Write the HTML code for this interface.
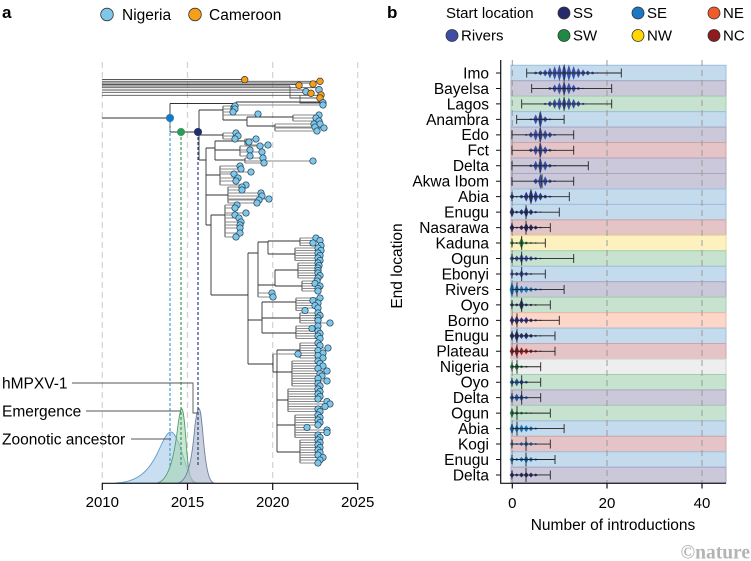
<!DOCTYPE html>
<html><head><meta charset="utf-8"><style>
html,body{margin:0;padding:0;background:#fff;}
svg{display:block;font-family:"Liberation Sans",Arial,sans-serif;}
.d circle{fill:#7fc7ea;stroke:#1e3a4e;stroke-width:.7}
</style></head><body>
<svg width="751" height="561" viewBox="0 0 751 561" xmlns="http://www.w3.org/2000/svg">
<rect width="751" height="561" fill="#fff"/>
<!-- ================= PANEL A ================= -->
<text x="2" y="18" font-size="17" font-weight="bold">a</text>
<circle cx="107" cy="14.5" r="6.3" fill="#7fc7ea" stroke="#333" stroke-width=".8"/>
<text x="122" y="20" font-size="15.5">Nigeria</text>
<circle cx="195" cy="14.5" r="6.3" fill="#f6a01a" stroke="#333" stroke-width=".8"/>
<text x="209" y="20" font-size="15.5">Cameroon</text>
<!-- grid -->
<g stroke="#d2d2d2" stroke-width="1.2" stroke-dasharray="6,4">
<path d="M102.3 62V483M187.5 62V483M272.7 62V483M357.7 62V483"/>
</g>
<!-- densities -->
<path d="M116 483C138 482 149 471 158 452C164 439 167 432 171 432C175 432 180 445 186 465C190 478 193 483 199 483Z" fill="#b7d4ec" fill-opacity=".75" stroke="#5d9fd2" stroke-width=".9"/>
<path d="M157 483C168 481 174 460 178 425C180 411 181 408.5 181.5 408.5C183 408.5 184 415 186 440C188 470 190 482 195 483Z" fill="#a6d3b3" fill-opacity=".6" stroke="#4f9d6c" stroke-width=".9"/>
<path d="M178 483C188 481 192 460 195 425C197 411 198 408.5 198.7 408.5C200 408.5 201 412 203 435C206 470 209 482 214 483Z" fill="#b4bed0" fill-opacity=".7" stroke="#6b80a3" stroke-width=".9"/>
<!-- tree: cameroon -->
<g fill="none" stroke="#555" stroke-width=".9">
<path d="M102 79.5H243M102 81.3H318M102 83H311M102 84.5H297M102 86H290M102 87.7H317M102 90H304M102 92.3H309M102 95.3H300M290 86V98H318M300 95.3V103H321M300 95.3H319"/>
</g>
<g stroke="#333" stroke-width=".7">
<circle cx="244.7" cy="79.7" r="3.3" fill="#f6a01a"/>
<circle cx="299" cy="85.3" r="3.3" fill="#f6a01a"/>
<circle cx="313" cy="84" r="3.3" fill="#f6a01a"/>
<circle cx="320" cy="81.3" r="3.3" fill="#f6a01a"/>
<circle cx="319" cy="89.7" r="3.3" fill="#7fc7ea"/>
<circle cx="306" cy="91.7" r="3.3" fill="#7fc7ea"/>
<circle cx="311" cy="93.3" r="3.3" fill="#f6a01a"/>
<circle cx="321" cy="95" r="3.3" fill="#f6a01a"/>
<circle cx="320" cy="98" r="3.3" fill="#f6a01a"/>
</g>
<!-- tree internal -->
<path fill="none" stroke="#333" stroke-width=".9" d="M102 118H170M170 103.5V132M170 103.5H236M236 102V107M236 102H323M170 132H199M199 110V160
M199 110H223M223 106V120M223 120H247M247 117V126M247 117H293M293 115V121M247 126H275M275 124V131
M199 135H223M223 133V139
M199 160H206M206 148V225
M206 148H215M215 141V160M215 141H245M245 139V145M215 150H240M240 146V156M215 160H245M245 158V163
M206 175H220M220 166V185
M206 195H228M228 187V203
M206 225H211M211 215V295M211 215H225M225 205V237
M211 295H248M248 253V364
M248 253H258M258 242V297M258 242H268M268 241V254M268 241H300M300 238V245.5M268 254H295M295 248V260.5
M258 285H275M275 270V286M275 270H298M298 263V278M275 286H302M302 281V291
M248 320H262M262 302V333M262 302H296M296 298V310.5M262 318H300M300 313V323M262 333H296M296 326V338.5
M248 364H273M273 354V372M273 372H277M277 350V452
M277 350H300M300 343V358M277 372H292M292 361V386M277 400H288M288 389V411.5M277 425H295M295 415V437.5M277 452H300M300 440V463"/>
<!-- tree terminal -->
<path fill="none" stroke="#8a8a8a" stroke-width=".9" d="M236 105H323M236 107H234M223 106H235M223 109H235M223 112H233M223 115H258M293 115H319M293 118H316M293 121H319M275 124H320M275 127H315M275 128H324M275 131H317
M223 133H236M223 136H238M223 139H235
M245 139H256M245 142H249M245 145H268M240 146H260M240 150H250M240 152H262M240 156H250M245 158H263M245 161H313M245 163H264
M220 166H240M220 169H241M220 172H251M220 174H234M220 178H238M220 181H236M220 185H246
M228 187H242M228 190H242M228 193H261M228 196H262M228 199H269M228 200H259M228 203H257
M225 205H237M225 208H235M225 213H246M225 215H235M225 218H239M225 222H241M225 225H240M225 228H240M225 233H240M225 237H236
M300 238H316M300 240.5H320M300 243H313M300 245.5H321
M295 248H318M295 250.5H321M295 253H318M295 255.5H320M295 258H318M295 260.5H320
M298 263H318M298 265.5H319M298 268H318M298 270.5H318M298 273H318M298 275.5H320M298 278H318
M302 281H317M302 283.5H315M302 286H320M302 288.5H318M302 291H318
M258 293H272M258 297H273
M296 298H320M296 300.5H313M296 303H318M296 305.5H315M296 308H318M296 310.5H305
M300 313H318M300 315.5H320M300 318H318M300 320.5H318M300 323H330
M296 326H318M296 328.5H312M296 331H318M296 333.5H320M296 336H318M296 338.5H320
M273 354H298
M300 343H318M300 345.5H320M300 348H328M300 350.5H318M300 353H323M300 355.5H318M300 358H323
M292 361H318M292 363.5H320M292 366H323M292 368.5H318M292 371H327M292 373.5H320M292 376H322M292 378.5H318M292 381H327M292 383.5H318M292 386H320
M288 389H318M288 391.5H320M288 394H318M288 396.5H320M288 399H318M288 401.5H327M288 404H330M288 406.5H325M288 409H318M288 411.5H320
M295 415H318M295 417.5H320M295 420H318M295 422.5H320M295 425H318M295 427.5H307M295 430H327M295 432.5H327M295 435H318M295 437.5H320
M300 440H318M300 442.5H320M300 445H318M300 447.5H320M300 450H318M300 452.5H320M300 455H318M300 457.5H323M300 460H320M300 463H318"/>
<g class="d">
<circle cx="323" cy="102.7" r="3.2"/><circle cx="323" cy="105" r="3.2"/><circle cx="234" cy="107.5" r="3.2"/>
<circle cx="235" cy="106" r="3.2"/><circle cx="235" cy="109" r="3.2"/><circle cx="233" cy="112" r="3.2"/><circle cx="258" cy="114" r="3.2"/><circle cx="319" cy="115" r="3.2"/><circle cx="316" cy="118" r="3.2"/><circle cx="319" cy="121" r="3.2"/><circle cx="314" cy="124" r="3.2"/><circle cx="320" cy="124" r="3.2"/><circle cx="315" cy="127" r="3.2"/><circle cx="324" cy="128" r="3.2"/><circle cx="317" cy="131" r="3.2"/>
<circle cx="236" cy="133" r="3.2"/><circle cx="238" cy="136" r="3.2"/><circle cx="235" cy="139" r="3.2"/>
<circle cx="256" cy="139" r="3.2"/><circle cx="249" cy="142" r="3.2"/><circle cx="268" cy="145" r="3.2"/><circle cx="260" cy="146" r="3.2"/><circle cx="250" cy="150" r="3.2"/><circle cx="262" cy="152" r="3.2"/><circle cx="250" cy="156" r="3.2"/><circle cx="263" cy="158" r="3.2"/><circle cx="313" cy="161" r="3.2"/><circle cx="264" cy="163" r="3.2"/>
<circle cx="240" cy="166" r="3.2"/><circle cx="241" cy="169" r="3.2"/><circle cx="251" cy="172" r="3.2"/><circle cx="234" cy="174" r="3.2"/><circle cx="238" cy="178" r="3.2"/><circle cx="236" cy="181" r="3.2"/><circle cx="246" cy="185" r="3.2"/>
<circle cx="242" cy="187" r="3.2"/><circle cx="242" cy="190" r="3.2"/><circle cx="261" cy="193" r="3.2"/><circle cx="262" cy="196" r="3.2"/><circle cx="269" cy="199" r="3.2"/><circle cx="259" cy="200" r="3.2"/><circle cx="257" cy="203" r="3.2"/>
<circle cx="237" cy="205" r="3.2"/><circle cx="235" cy="208" r="3.2"/><circle cx="246" cy="213" r="3.2"/><circle cx="235" cy="215" r="3.2"/><circle cx="239" cy="218" r="3.2"/><circle cx="241" cy="222" r="3.2"/><circle cx="240" cy="225" r="3.2"/><circle cx="240" cy="228" r="3.2"/><circle cx="240" cy="233" r="3.2"/><circle cx="236" cy="237" r="3.2"/>
<circle cx="316" cy="238" r="3.2"/><circle cx="320" cy="240.5" r="3.2"/><circle cx="313" cy="243" r="3.2"/><circle cx="321" cy="245.5" r="3.2"/>
<circle cx="318" cy="248" r="3.2"/><circle cx="321" cy="250.5" r="3.2"/><circle cx="318" cy="253" r="3.2"/><circle cx="320" cy="255.5" r="3.2"/><circle cx="318" cy="258" r="3.2"/><circle cx="320" cy="260.5" r="3.2"/>
<circle cx="318" cy="263" r="3.2"/><circle cx="319" cy="265.5" r="3.2"/><circle cx="318" cy="268" r="3.2"/><circle cx="318" cy="270.5" r="3.2"/><circle cx="318" cy="273" r="3.2"/><circle cx="320" cy="275.5" r="3.2"/><circle cx="318" cy="278" r="3.2"/>
<circle cx="317" cy="281" r="3.2"/><circle cx="315" cy="283.5" r="3.2"/><circle cx="320" cy="286" r="3.2"/><circle cx="318" cy="288.5" r="3.2"/><circle cx="318" cy="291" r="3.2"/>
<circle cx="272" cy="293" r="3.2"/><circle cx="273" cy="297" r="3.2"/>
<circle cx="320" cy="298" r="3.2"/><circle cx="313" cy="300.5" r="3.2"/><circle cx="318" cy="303" r="3.2"/><circle cx="315" cy="305.5" r="3.2"/><circle cx="318" cy="308" r="3.2"/><circle cx="305" cy="310.5" r="3.2"/>
<circle cx="318" cy="313" r="3.2"/><circle cx="320" cy="315.5" r="3.2"/><circle cx="318" cy="318" r="3.2"/><circle cx="318" cy="320.5" r="3.2"/><circle cx="330" cy="323" r="3.2"/>
<circle cx="318" cy="326" r="3.2"/><circle cx="312" cy="328.5" r="3.2"/><circle cx="318" cy="331" r="3.2"/><circle cx="320" cy="333.5" r="3.2"/><circle cx="318" cy="336" r="3.2"/><circle cx="320" cy="338.5" r="3.2"/>
<circle cx="298" cy="354" r="3.2"/>
<circle cx="318" cy="343" r="3.2"/><circle cx="320" cy="345.5" r="3.2"/><circle cx="328" cy="348" r="3.2"/><circle cx="318" cy="350.5" r="3.2"/><circle cx="323" cy="353" r="3.2"/><circle cx="318" cy="355.5" r="3.2"/><circle cx="323" cy="358" r="3.2"/>
<circle cx="318" cy="361" r="3.2"/><circle cx="320" cy="363.5" r="3.2"/><circle cx="323" cy="366" r="3.2"/><circle cx="318" cy="368.5" r="3.2"/><circle cx="327" cy="371" r="3.2"/><circle cx="320" cy="373.5" r="3.2"/><circle cx="322" cy="376" r="3.2"/><circle cx="318" cy="378.5" r="3.2"/><circle cx="327" cy="381" r="3.2"/><circle cx="318" cy="383.5" r="3.2"/><circle cx="320" cy="386" r="3.2"/>
<circle cx="318" cy="389" r="3.2"/><circle cx="320" cy="391.5" r="3.2"/><circle cx="318" cy="394" r="3.2"/><circle cx="320" cy="396.5" r="3.2"/><circle cx="318" cy="399" r="3.2"/><circle cx="327" cy="401.5" r="3.2"/><circle cx="330" cy="404" r="3.2"/><circle cx="325" cy="406.5" r="3.2"/><circle cx="318" cy="409" r="3.2"/><circle cx="320" cy="411.5" r="3.2"/>
<circle cx="318" cy="415" r="3.2"/><circle cx="320" cy="417.5" r="3.2"/><circle cx="318" cy="420" r="3.2"/><circle cx="320" cy="422.5" r="3.2"/><circle cx="318" cy="425" r="3.2"/><circle cx="307" cy="427.5" r="3.2"/><circle cx="327" cy="430" r="3.2"/><circle cx="327" cy="432.5" r="3.2"/><circle cx="318" cy="435" r="3.2"/><circle cx="320" cy="437.5" r="3.2"/>
<circle cx="318" cy="440" r="3.2"/><circle cx="320" cy="442.5" r="3.2"/><circle cx="318" cy="445" r="3.2"/><circle cx="320" cy="447.5" r="3.2"/><circle cx="318" cy="450" r="3.2"/><circle cx="320" cy="452.5" r="3.2"/><circle cx="318" cy="455" r="3.2"/><circle cx="323" cy="457.5" r="3.2"/><circle cx="320" cy="460" r="3.2"/><circle cx="318" cy="463" r="3.2"/>
</g>
<!-- dashed node lines -->
<g fill="none" stroke-width="1.2" stroke-dasharray="3,2">
<path d="M170 118V466" stroke="#4a9fd8"/>
<path d="M181 132V466" stroke="#3a9a5c"/>
<path d="M198 132V466" stroke="#2a3f7a"/>
</g>
<circle cx="170" cy="118" r="4" fill="#1a78c2"/>
<circle cx="181" cy="132" r="4" fill="#2e9a5a"/>
<circle cx="198" cy="132" r="4" fill="#1f2f6a"/>
<!-- labels -->
<path d="M72 383H193V413H197M86 411H181M131 439H171" fill="none" stroke="#555" stroke-width=".9"/>
<g font-size="15.5">
<text x="2" y="388.5">hMPXV-1</text>
<text x="2" y="416.5">Emergence</text>
<text x="2" y="444.5">Zoonotic ancestor</text>
</g>
<!-- axis a -->
<path d="M102.3 483.3H357.7M102.3 483V490M187.5 483V490M272.7 483V490M357.7 483V490" stroke="#111" stroke-width="1.2" fill="none"/>
<g font-size="15" text-anchor="middle">
<text x="102.3" y="507">2010</text><text x="187.5" y="507">2015</text><text x="272.7" y="507">2020</text><text x="357.7" y="507">2025</text>
</g>

<!-- ================= PANEL B ================= -->
<text x="387" y="18" font-size="17" font-weight="bold">b</text>
<g font-size="15">
<text x="446" y="18">Start location</text>
<text x="461" y="40.5">Rivers</text>
<text x="573" y="18">SS</text><text x="573" y="40.5">SW</text>
<text x="647" y="18">SE</text><text x="647" y="40.5">NW</text>
<text x="723" y="18">NE</text><text x="723" y="40.5">NC</text>
</g>
<g stroke="#333" stroke-width=".8">
<circle cx="452" cy="35.5" r="6" fill="#3f4ea3"/>
<circle cx="564" cy="13" r="6" fill="#262a6b"/>
<circle cx="564" cy="35.5" r="6" fill="#1e8a45"/>
<circle cx="638" cy="13" r="6" fill="#1a78c2"/>
<circle cx="638" cy="35.5" r="6" fill="#ffd600"/>
<circle cx="714" cy="13" r="6" fill="#f15a29"/>
<circle cx="714" cy="35.5" r="6" fill="#8e1b1e"/>
</g>
<!-- bands -->
<g stroke-width="1">
<rect x="511" y="65.27" width="215" height="15.46" fill="#c4dbee" stroke="#9fbedb"/>
<rect x="511" y="80.73" width="215" height="15.46" fill="#cbc8da" stroke="#a9a6c2"/>
<rect x="511" y="96.19" width="215" height="15.46" fill="#c7e3d0" stroke="#a2cdb0"/>
<rect x="511" y="111.65" width="215" height="15.46" fill="#c4dbee" stroke="#9fbedb"/>
<rect x="511" y="127.11" width="215" height="15.46" fill="#cbc8da" stroke="#a9a6c2"/>
<rect x="511" y="142.57" width="215" height="15.46" fill="#e5c4c8" stroke="#cfa3a9"/>
<rect x="511" y="158.03" width="215" height="15.46" fill="#cbc8da" stroke="#a9a6c2"/>
<rect x="511" y="173.49" width="215" height="15.46" fill="#cbc8da" stroke="#a9a6c2"/>
<rect x="511" y="188.95" width="215" height="15.46" fill="#c4dbee" stroke="#9fbedb"/>
<rect x="511" y="204.41" width="215" height="15.46" fill="#c4dbee" stroke="#9fbedb"/>
<rect x="511" y="219.87" width="215" height="15.46" fill="#e5c4c8" stroke="#cfa3a9"/>
<rect x="511" y="235.33" width="215" height="15.46" fill="#fdf2bf" stroke="#e8d98e"/>
<rect x="511" y="250.79" width="215" height="15.46" fill="#c7e3d0" stroke="#a2cdb0"/>
<rect x="511" y="266.25" width="215" height="15.46" fill="#c4dbee" stroke="#9fbedb"/>
<rect x="511" y="281.71" width="215" height="15.46" fill="#cbc8da" stroke="#a9a6c2"/>
<rect x="511" y="297.17" width="215" height="15.46" fill="#c7e3d0" stroke="#a2cdb0"/>
<rect x="511" y="312.63" width="215" height="15.46" fill="#fcd6c9" stroke="#eeb8a6"/>
<rect x="511" y="328.09" width="215" height="15.46" fill="#c4dbee" stroke="#9fbedb"/>
<rect x="511" y="343.55" width="215" height="15.46" fill="#e5c4c8" stroke="#cfa3a9"/>
<rect x="511" y="359.01" width="215" height="15.46" fill="#eeeeee" stroke="#d0d0d0"/>
<rect x="511" y="374.47" width="215" height="15.46" fill="#c7e3d0" stroke="#a2cdb0"/>
<rect x="511" y="389.93" width="215" height="15.46" fill="#cbc8da" stroke="#a9a6c2"/>
<rect x="511" y="405.39" width="215" height="15.46" fill="#c7e3d0" stroke="#a2cdb0"/>
<rect x="511" y="420.85" width="215" height="15.46" fill="#c4dbee" stroke="#9fbedb"/>
<rect x="511" y="436.31" width="215" height="15.46" fill="#e5c4c8" stroke="#cfa3a9"/>
<rect x="511" y="451.77" width="215" height="15.46" fill="#c4dbee" stroke="#9fbedb"/>
<rect x="511" y="467.23" width="215" height="15.46" fill="#cbc8da" stroke="#a9a6c2"/>
</g>
<!-- grid b -->
<path d="M512.3 60V483M607 60V483M702 60V483" stroke="#9a9a9a" stroke-width="1" stroke-dasharray="6,4" fill="none"/>
<!-- beads + error bars -->
<g transform="translate(512,73)"><path fill="#3b4fa3" d="M23.7-1.5l2.4 1.5-2.4 1.5-2.4-1.5zM28.44-2.5l2.4 2.5-2.4 2.5-2.4-2.5zM33.18-3.5l2.4 3.5-2.4 3.5-2.4-3.5zM37.92-5.5l2.4 5.5-2.4 5.5-2.4-5.5zM42.66-7l2.4 7-2.4 7-2.4-7zM47.4-8.5l2.4 8.5-2.4 8.5-2.4-8.5zM52.14-9.5l2.4 9.5-2.4 9.5-2.4-9.5zM56.88-8.5l2.4 8.5-2.4 8.5-2.4-8.5zM61.62-7l2.4 7-2.4 7-2.4-7zM66.36-5l2.4 5-2.4 5-2.4-5zM71.1-3.5l2.4 3.5-2.4 3.5-2.4-3.5zM75.84-2.5l2.4 2.5-2.4 2.5-2.4-2.5zM80.58-1.5l2.4 1.5-2.4 1.5-2.4-1.5zM85.32-.8l2.4.8-2.4.8-2.4-.8z"/><path stroke="#222" fill="none" stroke-width=".9" d="M14.7 0H109.3M14.7-4.5V4.5M109.3-4.5V4.5M52.1-7.5V7.5"/></g>
<g transform="translate(512,88.46)"><path fill="#3b4fa3" d="M37.92-1.5l2.4 1.5-2.4 1.5-2.4-1.5zM42.66-4l2.4 4-2.4 4-2.4-4zM47.4-6l2.4 6-2.4 6-2.4-6zM52.14-7l2.4 7-2.4 7-2.4-7zM56.88-6l2.4 6-2.4 6-2.4-6zM61.62-4l2.4 4-2.4 4-2.4-4zM66.36-1.5l2.4 1.5-2.4 1.5-2.4-1.5zM71.1-.7l2.4.7-2.4.7-2.4-.7z"/><path stroke="#222" fill="none" stroke-width=".9" d="M19.7 0H99.7M19.7-4.5V4.5M99.7-4.5V4.5M52.1-7V7"/></g>
<g transform="translate(512,103.92)"><path fill="#3b4fa3" d="M33.18-1.2l2.4 1.2-2.4 1.2-2.4-1.2zM37.92-3l2.4 3-2.4 3-2.4-3zM42.66-5l2.4 5-2.4 5-2.4-5zM47.4-6.5l2.4 6.5-2.4 6.5-2.4-6.5zM52.14-7l2.4 7-2.4 7-2.4-7zM56.88-6.5l2.4 6.5-2.4 6.5-2.4-6.5zM61.62-5l2.4 5-2.4 5-2.4-5zM66.36-3l2.4 3-2.4 3-2.4-3zM71.1-1.2l2.4 1.2-2.4 1.2-2.4-1.2z"/><path stroke="#222" fill="none" stroke-width=".9" d="M9.7 0H99.7M9.7-4.5V4.5M99.7-4.5V4.5M52.1-7V7"/></g>
<g transform="translate(512,119.38)"><path fill="#3b4fa3" d="M18.96-1l2.4 1-2.4 1-2.4-1zM23.7-5l2.4 5-2.4 5-2.4-5zM28.44-9l2.4 9-2.4 9-2.4-9zM33.18-3l2.4 3-2.4 3-2.4-3zM37.92-1l2.4 1-2.4 1-2.4-1z"/><path stroke="#222" fill="none" stroke-width=".9" d="M4.7 0H52.1M4.7-4.5V4.5M52.1-4.5V4.5M28-7V7"/></g>
<g transform="translate(512,134.84)"><path fill="#3b4fa3" d="M14.22-1l2.4 1-2.4 1-2.4-1zM18.96-3l2.4 3-2.4 3-2.4-3zM23.7-6l2.4 6-2.4 6-2.4-6zM28.44-8l2.4 8-2.4 8-2.4-8zM33.18-5l2.4 5-2.4 5-2.4-5zM37.92-3l2.4 3-2.4 3-2.4-3zM42.66-1l2.4 1-2.4 1-2.4-1z"/><path stroke="#222" fill="none" stroke-width=".9" d="M0 0H61.7M0-4.5V4.5M61.7-4.5V4.5M28-7V7"/></g>
<g transform="translate(512,150.3)"><path fill="#3b4fa3" d="M18.96-2l2.4 2-2.4 2-2.4-2zM23.7-5l2.4 5-2.4 5-2.4-5zM28.44-8l2.4 8-2.4 8-2.4-8zM33.18-4l2.4 4-2.4 4-2.4-4zM37.92-1.5l2.4 1.5-2.4 1.5-2.4-1.5zM42.66-.6l2.4.6-2.4.6-2.4-.6z"/><path stroke="#222" fill="none" stroke-width=".9" d="M0 0H61.7M0-4.5V4.5M61.7-4.5V4.5M28-7V7"/></g>
<g transform="translate(512,165.76)"><path fill="#3b4fa3" d="M18.96-1.5l2.4 1.5-2.4 1.5-2.4-1.5zM23.7-5l2.4 5-2.4 5-2.4-5zM28.44-8l2.4 8-2.4 8-2.4-8zM33.18-5l2.4 5-2.4 5-2.4-5zM37.92-2l2.4 2-2.4 2-2.4-2zM42.66-.8l2.4.8-2.4.8-2.4-.8z"/><path stroke="#222" fill="none" stroke-width=".9" d="M0 0H76.3M0-4.5V4.5M76.3-4.5V4.5M28-7V7"/></g>
<g transform="translate(512,181.22)"><path fill="#3b4fa3" d="M23.7-3l2.4 3-2.4 3-2.4-3zM28.44-8l2.4 8-2.4 8-2.4-8zM33.18-5l2.4 5-2.4 5-2.4-5zM37.92-2l2.4 2-2.4 2-2.4-2zM42.66-.8l2.4.8-2.4.8-2.4-.8z"/><path stroke="#222" fill="none" stroke-width=".9" d="M0 0H61.7M0-4.5V4.5M61.7-4.5V4.5M30-7V7"/></g>
<g transform="translate(512,196.68)"><path fill="#2d3a8a" d="M0-3l2.4 3-2.4 3-2.4-3zM4.74-.8l2.4.8-2.4.8-2.4-.8zM9.48-2l2.4 2-2.4 2-2.4-2zM14.22-5l2.4 5-2.4 5-2.4-5zM18.96-8l2.4 8-2.4 8-2.4-8zM23.7-6l2.4 6-2.4 6-2.4-6zM28.44-4l2.4 4-2.4 4-2.4-4zM33.18-2l2.4 2-2.4 2-2.4-2zM37.92-1l2.4 1-2.4 1-2.4-1z"/><path stroke="#222" fill="none" stroke-width=".9" d="M0 0H57.3M0-4.5V4.5M57.3-4.5V4.5M19-7V7"/></g>
<g transform="translate(512,212.14)"><path fill="#2a3480" d="M0-5l2.4 5-2.4 5-2.4-5zM4.74-1.5l2.4 1.5-2.4 1.5-2.4-1.5zM9.48-3l2.4 3-2.4 3-2.4-3zM14.22-6l2.4 6-2.4 6-2.4-6zM18.96-3l2.4 3-2.4 3-2.4-3zM23.7-1.2l2.4 1.2-2.4 1.2-2.4-1.2zM28.44-.6l2.4.6-2.4.6-2.4-.6z"/><path stroke="#222" fill="none" stroke-width=".9" d="M0 0H47.3M0-4.5V4.5M47.3-4.5V4.5M14-7V7"/></g>
<g transform="translate(512,227.6)"><path fill="#222a66" d="M0-4l2.4 4-2.4 4-2.4-4zM4.74-1l2.4 1-2.4 1-2.4-1zM9.48-2.5l2.4 2.5-2.4 2.5-2.4-2.5zM14.22-5l2.4 5-2.4 5-2.4-5zM18.96-3.5l2.4 3.5-2.4 3.5-2.4-3.5zM23.7-2l2.4 2-2.4 2-2.4-2zM28.44-.8l2.4.8-2.4.8-2.4-.8z"/><path stroke="#222" fill="none" stroke-width=".9" d="M0 0H38.3M0-4.5V4.5M38.3-4.5V4.5M14-7V7"/></g>
<g transform="translate(512,243.06)"><path fill="#1e8a45" d="M0-2l2.4 2-2.4 2-2.4-2zM4.74-1l2.4 1-2.4 1-2.4-1zM9.48-6l2.4 6-2.4 6-2.4-6zM14.22-1.5l2.4 1.5-2.4 1.5-2.4-1.5zM18.96-1l2.4 1-2.4 1-2.4-1zM23.7-.8l2.4.8-2.4.8-2.4-.8z"/><path stroke="#222" fill="none" stroke-width=".9" d="M0 0H33.3M0-4.5V4.5M33.3-4.5V4.5M9.7-7V7"/></g>
<g transform="translate(512,258.52)"><path fill="#3b4fa3" d="M0-3l2.4 3-2.4 3-2.4-3zM4.74-3l2.4 3-2.4 3-2.4-3zM9.48-5l2.4 5-2.4 5-2.4-5zM14.22-3.5l2.4 3.5-2.4 3.5-2.4-3.5zM18.96-2.5l2.4 2.5-2.4 2.5-2.4-2.5zM23.7-1.5l2.4 1.5-2.4 1.5-2.4-1.5zM28.44-.8l2.4.8-2.4.8-2.4-.8z"/><path stroke="#222" fill="none" stroke-width=".9" d="M0 0H61.7M0-4.5V4.5M61.7-4.5V4.5M9.7-7V7"/></g>
<g transform="translate(512,273.98)"><path fill="#3b4fa3" d="M0-2l2.4 2-2.4 2-2.4-2zM4.74-2l2.4 2-2.4 2-2.4-2zM9.48-4l2.4 4-2.4 4-2.4-4zM14.22-2l2.4 2-2.4 2-2.4-2zM18.96-1l2.4 1-2.4 1-2.4-1z"/><path stroke="#222" fill="none" stroke-width=".9" d="M0 0H33.3M0-4.5V4.5M33.3-4.5V4.5M9.7-7V7"/></g>
<g transform="translate(512,289.44)"><path fill="#1a78c2" d="M0-8l2.4 8-2.4 8-2.4-8zM4.74-5l2.4 5-2.4 5-2.4-5zM9.48-4l2.4 4-2.4 4-2.4-4zM14.22-3.5l2.4 3.5-2.4 3.5-2.4-3.5zM18.96-2.5l2.4 2.5-2.4 2.5-2.4-2.5zM23.7-1.5l2.4 1.5-2.4 1.5-2.4-1.5zM28.44-1l2.4 1-2.4 1-2.4-1z"/><path stroke="#222" fill="none" stroke-width=".9" d="M0 0H52.1M0-4.5V4.5M52.1-4.5V4.5M5-7V7"/></g>
<g transform="translate(512,304.9)"><path fill="#262c6e" d="M0-2l2.4 2-2.4 2-2.4-2zM4.74-1.5l2.4 1.5-2.4 1.5-2.4-1.5zM9.48-6l2.4 6-2.4 6-2.4-6zM14.22-1.5l2.4 1.5-2.4 1.5-2.4-1.5zM18.96-1.2l2.4 1.2-2.4 1.2-2.4-1.2zM23.7-.8l2.4.8-2.4.8-2.4-.8z"/><path stroke="#222" fill="none" stroke-width=".9" d="M0 0H38.3M0-4.5V4.5M38.3-4.5V4.5M9.7-7V7"/></g>
<g transform="translate(512,320.36)"><path fill="#2d3a8a" d="M0-4l2.4 4-2.4 4-2.4-4zM4.74-5l2.4 5-2.4 5-2.4-5zM9.48-3l2.4 3-2.4 3-2.4-3zM14.22-3.5l2.4 3.5-2.4 3.5-2.4-3.5zM18.96-2l2.4 2-2.4 2-2.4-2zM23.7-1.2l2.4 1.2-2.4 1.2-2.4-1.2zM28.44-.6l2.4.6-2.4.6-2.4-.6z"/><path stroke="#222" fill="none" stroke-width=".9" d="M0 0H47.3M0-4.5V4.5M47.3-4.5V4.5M5-7V7"/></g>
<g transform="translate(512,335.82)"><path fill="#262c6e" d="M0-4l2.4 4-2.4 4-2.4-4zM4.74-6l2.4 6-2.4 6-2.4-6zM9.48-3l2.4 3-2.4 3-2.4-3zM14.22-3.5l2.4 3.5-2.4 3.5-2.4-3.5zM18.96-2l2.4 2-2.4 2-2.4-2zM23.7-1l2.4 1-2.4 1-2.4-1zM28.44-.6l2.4.6-2.4.6-2.4-.6z"/><path stroke="#222" fill="none" stroke-width=".9" d="M0 0H43M0-4.5V4.5M43-4.5V4.5M5-7V7"/></g>
<g transform="translate(512,351.28)"><path fill="#a21e22" d="M0-4l2.4 4-2.4 4-2.4-4zM4.74-6l2.4 6-2.4 6-2.4-6zM9.48-4l2.4 4-2.4 4-2.4-4zM14.22-3l2.4 3-2.4 3-2.4-3zM18.96-2l2.4 2-2.4 2-2.4-2zM23.7-1.2l2.4 1.2-2.4 1.2-2.4-1.2zM28.44-.6l2.4.6-2.4.6-2.4-.6z"/><path stroke="#222" fill="none" stroke-width=".9" d="M0 0H43M0-4.5V4.5M43-4.5V4.5M5-7V7"/></g>
<g transform="translate(512,366.74)"><path fill="#1e8a45" d="M0-3l2.4 3-2.4 3-2.4-3zM4.74-4l2.4 4-2.4 4-2.4-4zM9.48-1.5l2.4 1.5-2.4 1.5-2.4-1.5zM14.22-1l2.4 1-2.4 1-2.4-1z"/><path stroke="#222" fill="none" stroke-width=".9" d="M0 0H28.7M0-4.5V4.5M28.7-4.5V4.5M5-7V7"/></g>
<g transform="translate(512,382.2)"><path fill="#2356a8" d="M0-3l2.4 3-2.4 3-2.4-3zM4.74-4l2.4 4-2.4 4-2.4-4zM9.48-3l2.4 3-2.4 3-2.4-3zM14.22-1.5l2.4 1.5-2.4 1.5-2.4-1.5z"/><path stroke="#222" fill="none" stroke-width=".9" d="M0 0H28.7M0-4.5V4.5M28.7-4.5V4.5M9.7-7V7"/></g>
<g transform="translate(512,397.66)"><path fill="#2356a8" d="M0-3l2.4 3-2.4 3-2.4-3zM4.74-4l2.4 4-2.4 4-2.4-4zM9.48-3.5l2.4 3.5-2.4 3.5-2.4-3.5zM14.22-1.5l2.4 1.5-2.4 1.5-2.4-1.5z"/><path stroke="#222" fill="none" stroke-width=".9" d="M0 0H28.7M0-4.5V4.5M28.7-4.5V4.5M9.7-7V7"/></g>
<g transform="translate(512,413.12)"><path fill="#1e8a45" d="M0-4l2.4 4-2.4 4-2.4-4zM4.74-2l2.4 2-2.4 2-2.4-2zM9.48-1.5l2.4 1.5-2.4 1.5-2.4-1.5zM14.22-1l2.4 1-2.4 1-2.4-1zM18.96-.8l2.4.8-2.4.8-2.4-.8z"/><path stroke="#222" fill="none" stroke-width=".9" d="M0 0H38.3M0-4.5V4.5M38.3-4.5V4.5M5-7V7"/></g>
<g transform="translate(512,428.58)"><path fill="#1a78c2" d="M0-5l2.4 5-2.4 5-2.4-5zM4.74-4l2.4 4-2.4 4-2.4-4zM9.48-4l2.4 4-2.4 4-2.4-4zM14.22-3.5l2.4 3.5-2.4 3.5-2.4-3.5zM18.96-2.5l2.4 2.5-2.4 2.5-2.4-2.5zM23.7-1.2l2.4 1.2-2.4 1.2-2.4-1.2z"/><path stroke="#222" fill="none" stroke-width=".9" d="M0 0H52.1M0-4.5V4.5M52.1-4.5V4.5M5-7V7"/></g>
<g transform="translate(512,444.04)"><path fill="#1a78c2" d="M0-2l2.4 2-2.4 2-2.4-2zM4.74-1l2.4 1-2.4 1-2.4-1zM9.48-2l2.4 2-2.4 2-2.4-2zM14.22-3l2.4 3-2.4 3-2.4-3zM18.96-2l2.4 2-2.4 2-2.4-2zM23.7-1l2.4 1-2.4 1-2.4-1z"/><path stroke="#222" fill="none" stroke-width=".9" d="M0 0H38.3M0-4.5V4.5M38.3-4.5V4.5M14-7V7"/></g>
<g transform="translate(512,459.5)"><path fill="#1a78c2" d="M0-3l2.4 3-2.4 3-2.4-3zM4.74-1.5l2.4 1.5-2.4 1.5-2.4-1.5zM9.48-2.5l2.4 2.5-2.4 2.5-2.4-2.5zM14.22-4l2.4 4-2.4 4-2.4-4zM18.96-2.5l2.4 2.5-2.4 2.5-2.4-2.5zM23.7-1.2l2.4 1.2-2.4 1.2-2.4-1.2z"/><path stroke="#222" fill="none" stroke-width=".9" d="M0 0H43M0-4.5V4.5M43-4.5V4.5M14-7V7"/></g>
<g transform="translate(512,474.96)"><path fill="#262c6e" d="M0-3l2.4 3-2.4 3-2.4-3zM4.74-1.5l2.4 1.5-2.4 1.5-2.4-1.5zM9.48-2.5l2.4 2.5-2.4 2.5-2.4-2.5zM14.22-3l2.4 3-2.4 3-2.4-3zM18.96-2.5l2.4 2.5-2.4 2.5-2.4-2.5zM23.7-1.5l2.4 1.5-2.4 1.5-2.4-1.5z"/><path stroke="#222" fill="none" stroke-width=".9" d="M0 0H38.3M0-4.5V4.5M38.3-4.5V4.5M14-7V7"/></g>
<!-- axes b -->
<path d="M500.7 60V483.3H726M512.3 483V488.5M607 483V488.5M702 483V488.5" stroke="#111" stroke-width="1.2" fill="none"/>
<path stroke="#111" stroke-width="1" d="M496 73H501M496 88.46H501M496 103.92H501M496 119.38H501M496 134.84H501M496 150.3H501M496 165.76H501M496 181.22H501M496 196.68H501M496 212.14H501M496 227.6H501M496 243.06H501M496 258.52H501M496 273.98H501M496 289.44H501M496 304.9H501M496 320.36H501M496 335.82H501M496 351.28H501M496 366.74H501M496 382.2H501M496 397.66H501M496 413.12H501M496 428.58H501M496 444.04H501M496 459.5H501M496 474.96H501"/>
<g font-size="15.5" text-anchor="end">
<text x="489" y="78.4">Imo</text>
<text x="489" y="93.86">Bayelsa</text>
<text x="489" y="109.32">Lagos</text>
<text x="489" y="124.78">Anambra</text>
<text x="489" y="140.24">Edo</text>
<text x="489" y="155.7">Fct</text>
<text x="489" y="171.16">Delta</text>
<text x="489" y="186.62">Akwa Ibom</text>
<text x="489" y="202.08">Abia</text>
<text x="489" y="217.54">Enugu</text>
<text x="489" y="233">Nasarawa</text>
<text x="489" y="248.46">Kaduna</text>
<text x="489" y="263.92">Ogun</text>
<text x="489" y="279.38">Ebonyi</text>
<text x="489" y="294.84">Rivers</text>
<text x="489" y="310.3">Oyo</text>
<text x="489" y="325.76">Borno</text>
<text x="489" y="341.22">Enugu</text>
<text x="489" y="356.68">Plateau</text>
<text x="489" y="372.14">Nigeria</text>
<text x="489" y="387.6">Oyo</text>
<text x="489" y="403.06">Delta</text>
<text x="489" y="418.52">Ogun</text>
<text x="489" y="433.98">Abia</text>
<text x="489" y="449.44">Kogi</text>
<text x="489" y="464.9">Enugu</text>
<text x="489" y="480.36">Delta</text>
</g>
<text transform="translate(402,266) rotate(-90)" font-size="15.5" text-anchor="middle">End location</text>
<g font-size="15" text-anchor="middle">
<text x="512.3" y="508">0</text><text x="607" y="508">20</text><text x="702" y="508">40</text>
</g>
<text x="613" y="530" font-size="15.5" text-anchor="middle">Number of introductions</text>
<text x="750" y="558.5" font-size="19.5" font-weight="bold" fill="#b4b4b4" text-anchor="end" font-family="Liberation Serif, serif">©nature</text>
</svg>
</body></html>
